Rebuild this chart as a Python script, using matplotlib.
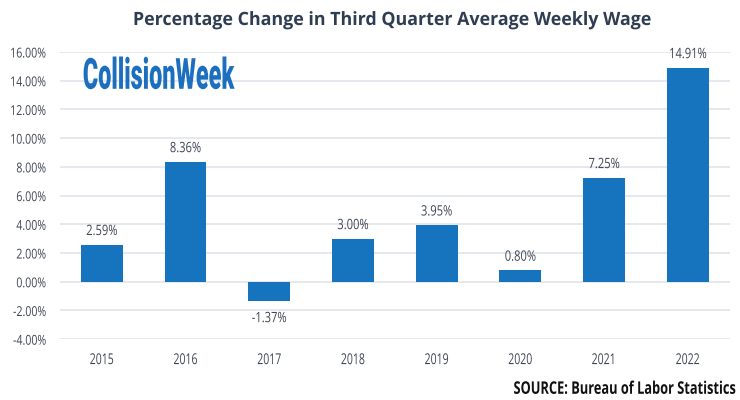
import matplotlib
matplotlib.use("Agg")
import matplotlib.pyplot as plt
from matplotlib.patheffects import AbstractPathEffect
from matplotlib.transforms import Affine2D

years = ["2015", "2016", "2017", "2018", "2019", "2020", "2021", "2022"]
pct_change = [2.59, 8.36, -1.37, 3.00, 3.95, 0.80, 7.25, 14.91]
y_ticks = [-4, -2, 0, 2, 4, 6, 8, 10, 12, 14, 16]
title = "Percentage Change in Third Quarter Average Weekly Wage"
source = "SOURCE: Bureau of Labor Statistics"
logo = "CollisionWeek"

FONT = ["Open Sans", "DejaVu Sans"]
plt.rcParams["font.family"] = FONT

BAR = "#1673bd"
TXT = "#3f4654"
GRID = "#e3e6ee"


class Squeeze(AbstractPathEffect):
    """Draw text glyphs horizontally condensed around an anchor."""

    def __init__(self, sx=0.8, anchor="center"):
        super().__init__()
        self.sx = sx
        self.anchor = anchor

    def draw_path(self, renderer, gc, tpath, affine, rgbFace=None):
        ext = tpath.get_extents()
        if self.anchor == "left":
            a = ext.x0
        elif self.anchor == "right":
            a = ext.x1
        else:
            a = 0.5 * (ext.x0 + ext.x1)
        tr = Affine2D().translate(-a, 0).scale(self.sx, 1).translate(a, 0) + affine
        renderer.draw_path(gc, tpath, tr, rgbFace)


fig = plt.figure(figsize=(7.4, 4.0), dpi=100)
ax = fig.add_axes([0.081, 0.152, 0.905, 0.718])

x = list(range(len(years)))
ax.bar(x, pct_change, width=0.5, color=BAR, zorder=3)

ax.set_xlim(-0.5, len(years) - 0.5)
ax.set_ylim(-4, 16)
ax.set_yticks(y_ticks)
ax.set_yticklabels([f"{v:.2f}%" for v in y_ticks])
ax.set_xticks(x)
ax.set_xticklabels(years)
ax.grid(axis="y", color=GRID, linewidth=1.3, zorder=0)
for s in ax.spines.values():
    s.set_visible(False)
ax.tick_params(axis="y", length=0, labelsize=9.8, colors=TXT, pad=10)
ax.tick_params(axis="x", length=0, labelsize=10.8, colors=TXT, pad=10)
for lab in ax.get_yticklabels():
    lab.set_path_effects([Squeeze(0.78, "right")])
for lab in ax.get_xticklabels():
    lab.set_path_effects([Squeeze(0.7, "center")])

for xi, v in zip(x, pct_change):
    if v >= 0:
        t = ax.annotate(f"{v:.2f}%", (xi, v), xytext=(0, 4), textcoords="offset points",
                        ha="center", va="bottom", fontsize=10.3, color=TXT)
    else:
        t = ax.annotate(f"{v:.2f}%", (xi, v), xytext=(0, -7), textcoords="offset points",
                        ha="center", va="top", fontsize=10.3, color=TXT)
    t.set_path_effects([Squeeze(0.78, "center")])

t_title = fig.text(0.531, 0.95, title, ha="center", va="center", fontsize=13.2,
                   fontweight="bold", color="#2f3d52")
t_logo = fig.text(0.111, 0.778, logo, ha="left", va="baseline", fontsize=31,
                  fontweight=900, family=["Roboto", "DejaVu Sans"], color="#1b6fbe")
t_src = fig.text(0.994, 0.028, source, ha="right", va="center", fontsize=12.5,
                 fontweight="bold", color="#111111")

# condense the headline texts to the widths seen in the reference
fig.canvas.draw()
r = fig.canvas.get_renderer()
for t, target, anchor in [(t_title, 520, "center"), (t_logo, 151, "left"), (t_src, 222, "right")]:
    w = t.get_window_extent(r).width
    t.set_path_effects([Squeeze(min(1.0, target / w), anchor)])

fig.savefig("out.png", dpi=100)
